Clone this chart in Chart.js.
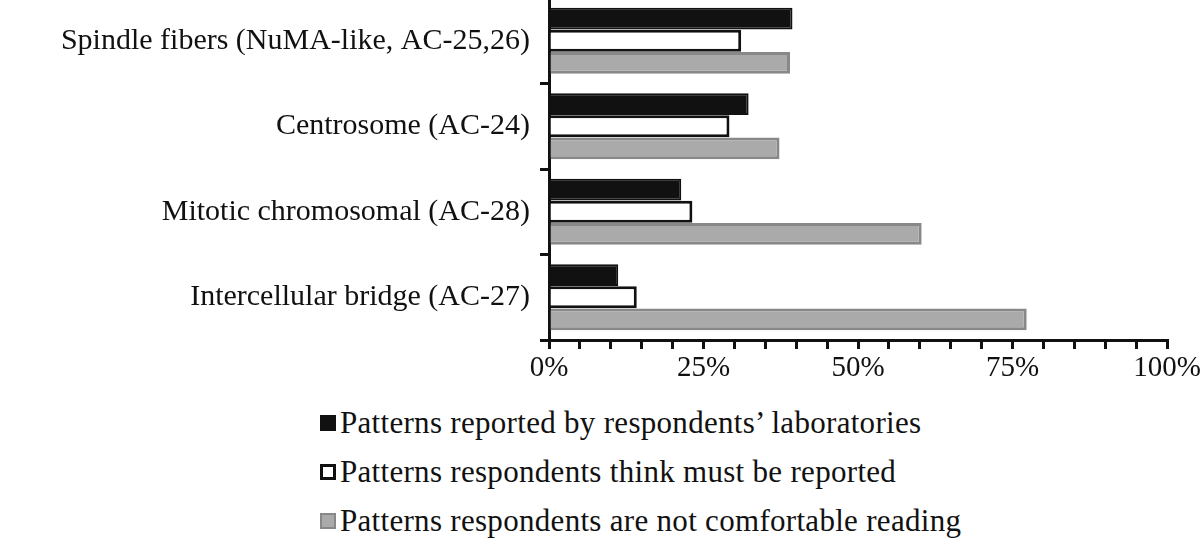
<!DOCTYPE html><html><head><script src="https://cdn.jsdelivr.net/npm/chart.js@4"></script>
<style>body{margin:0;background:#fff;font-family:"Liberation Serif",serif;overflow:hidden}
#wrap{position:relative;width:1203px;height:395px;overflow:hidden}
#c{position:absolute;left:0;top:-30px}
.lg{position:absolute;left:320px;font-size:31px;color:#111;display:flex;align-items:center;letter-spacing:0.3px}
.sq{width:16px;height:16px;margin-right:4px;box-sizing:border-box}
</style></head><body>
<div id="wrap"><canvas id="c" width="1203" height="425"></canvas></div>
<div class="lg" style="top:405px"><div class="sq" style="background:#111;border:2px solid #111"></div>Patterns reported by respondents’ laboratories</div>
<div class="lg" style="top:454px"><div class="sq" style="background:#fff;border:3px solid #111"></div>Patterns respondents think must be reported</div>
<div class="lg" style="top:503px"><div class="sq" style="background:#aaa;border:2px solid #888"></div>Patterns respondents are not comfortable reading</div>
<script>
const categories=["Spindle fibers (NuMA-like, AC-25,26)","Centrosome (AC-24)","Mitotic chromosomal (AC-28)","Intercellular bridge (AC-27)"];
const reported=[39.4,32.3,21.4,11.2];
const mustReport=[31.1,29.2,23.2,14.2];
const notComfortable=[39.0,37.3,60.3,77.3];
const seriesNames=["Patterns reported by respondents’ laboratories","Patterns respondents think must be reported","Patterns respondents are not comfortable reading"];
const F={family:"Liberation Serif",size:30};
new Chart(document.getElementById('c'),{type:'bar',
data:{labels:categories,datasets:[
{label:seriesNames[0],data:reported,backgroundColor:'#111',borderColor:'#111',borderWidth:2},
{label:seriesNames[1],data:mustReport,backgroundColor:'#fff',borderColor:'#111',borderWidth:3},
{label:seriesNames[2],data:notComfortable,backgroundColor:'#aaa',borderColor:'#888',borderWidth:3}]},
options:{indexAxis:'y',responsive:false,animation:false,
layout:{padding:{top:0,right:36,left:0,bottom:0}},
plugins:{legend:{display:false},tooltip:{enabled:false}},
datasets:{bar:{categoryPercentage:0.78,barPercentage:0.98}},
scales:{
x:{min:0,max:100,afterFit:s=>{s.height=55},
ticks:{stepSize:5,autoSkip:false,maxRotation:0,color:'#111',font:{family:"Liberation Serif",size:29},padding:2,callback:v=>v%25===0?v+'%':''},
grid:{drawOnChartArea:false,color:'#111',lineWidth:3,tickLength:9},border:{color:'#111',width:3}},
y:{afterFit:s=>{s.width=549},
ticks:{color:'#111',font:F,padding:10},
grid:{offset:true,drawOnChartArea:false,color:'#111',lineWidth:3,tickLength:9},border:{color:'#111',width:3}}}}});
</script></body></html>
